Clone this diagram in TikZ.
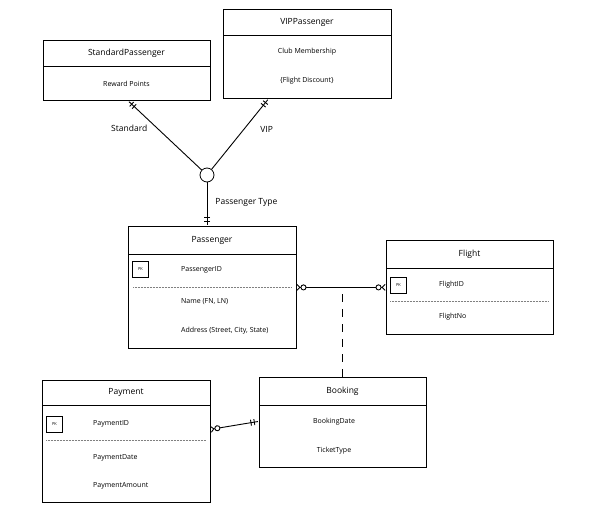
\documentclass[tikz,border=0pt]{standalone}
\usepackage{fontspec}
\setmainfont{Open Sans}
\usetikzlibrary{positioning,calc,arrows.meta}

\tikzset{
    head/.style={draw, line width=0.8pt, inner sep=0pt, font=\fontsize{8.5}{10}\selectfont},
    body/.style={draw, line width=0.8pt, inner sep=0pt},
    attr/.style={font=\fontsize{7}{8}\selectfont, inner sep=0pt},
    pk/.style={draw, line width=0.6pt, minimum size=16pt, inner sep=0pt, font=\fontsize{4}{5}\selectfont},
    sep/.style={densely dotted, line width=0.5pt, gray},
    lbl/.style={font=\fontsize{8.5}{10}\selectfont, inner sep=0pt},
    rel/.style={line width=0.9pt},
    onetip/.style={-{Bar[width=6pt,sep=2.5pt]Bar[width=6pt,sep=3pt]Bar[width=0pt,length=0pt,sep=0pt]}},
    manyone/.style={{Straight Barb[reversed, length=3pt, width=6pt]Circle[open, length=6pt, width=6pt, fill=white]}-{Bar[width=6pt,sep=2.5pt]Bar[width=6pt,sep=3pt]Bar[width=0pt,length=0pt,sep=0pt]}},
    manymany/.style={{Straight Barb[reversed, length=3pt, width=6pt]Circle[open, length=6pt, width=6pt, fill=white]}-{Circle[open, length=6pt, width=6pt, fill=white]Straight Barb[reversed, length=3pt, width=6pt]}},
}

\begin{document}
\begin{tikzpicture}[x=1pt, y=-1pt]
    \useasboundingbox[fill=white] (0,0) rectangle (591,511);

    % StandardPassenger
    \node[head, minimum width=167pt, minimum height=26pt] (stdhead) at (126.5,53) {StandardPassenger};
    \node[body, minimum width=167pt, minimum height=34pt, below=0pt of stdhead] (stdbody) {};
    \node[attr] at (stdbody.center) {Reward Points};

    % VIPPassenger
    \node[head, minimum width=168pt, minimum height=26pt] (viphead) at (307,22) {VIPPassenger};
    \node[body, minimum width=168pt, minimum height=63pt, below=0pt of viphead] (vipbody) {};
    \node[attr] at (307,52) {Club Membership};
    \node[attr] at (307,81) {\{Flight Discount\}};

    % subtype circle
    \node[draw, circle, line width=0.8pt, minimum size=14pt, inner sep=0pt] (sub) at (207,175) {};

    % Passenger
    \node[head, minimum width=168pt, minimum height=28pt] (pashead) at (212,240) {Passenger};
    \node[body, minimum width=168pt, minimum height=94pt, below=0pt of pashead] (pasbody) {};
    \node[pk] (paspk) at (140.5,269.5) {PK};
    \node[attr, anchor=west] at (181,270) {PassengerID};
    \draw[sep] (133,287) -- (291,287);
    \node[attr, anchor=west] at (181,302) {Name (FN, LN)};
    \node[attr, anchor=west] at (181,331) {Address (Street, City, State)};

    % Flight
    \node[head, minimum width=167pt, minimum height=28pt] (flhead) at (469.5,254) {Flight};
    \node[body, minimum width=167pt, minimum height=66pt, below=0pt of flhead] (flbody) {};
    \node[pk] (flpk) at (398.5,285) {PK};
    \node[attr, anchor=west] at (439,285) {FlightID};
    \draw[sep] (390,301) -- (549,301);
    \node[attr, anchor=west] at (439,317) {FlightNo};

    % Payment
    \node[head, minimum width=168pt, minimum height=25pt] (payhead) at (126,392.5) {Payment};
    \node[body, minimum width=168pt, minimum height=97pt, below=0pt of payhead] (paybody) {};
    \node[pk] (paypk) at (54.5,424) {PK};
    \node[attr, anchor=west] at (93,424) {PaymentID};
    \draw[sep] (46,440) -- (206,440);
    \node[attr, anchor=west] at (93,458) {PaymentDate};
    \node[attr, anchor=west] at (93,486) {PaymentAmount};

    % Booking
    \node[head, minimum width=167pt, minimum height=28pt] (bkhead) at (342.5,391) {Booking};
    \node[body, minimum width=167pt, minimum height=62pt, below=0pt of bkhead] (bkbody) {};
    \node[attr] at (334,422) {BookingDate};
    \node[attr] at (334,451) {TicketType};

    % relations
    \draw[rel, onetip] (sub) -- ($(stdbody.south)+(2,0)$) node[lbl, pos=0.6, left=10pt] {Standard};
    \draw[rel, onetip] (sub) -- ($(vipbody.south west)!0.27!(vipbody.south east)$) node[lbl, pos=0.57, right=16pt] {VIP};
    \draw[rel, onetip] (sub) -- (sub |- pashead.north) node[lbl, midway, right=8pt, anchor=west, yshift=2pt] {Passenger Type};

    \draw[rel, manymany] ($(pasbody.north east)+(0,33)$) -- coordinate[pos=0.5] (mid) ($(flbody.north west)+(0,19)$);
    \draw[line width=0.9pt, dash pattern=on 8pt off 7pt] (bkhead.north) -- (bkhead.north |- mid);

    \draw[rel, manyone] ($(paybody.north east)+(0,24)$) -- ($(bkbody.north west)+(0,16)$);
\end{tikzpicture}
\end{document}
